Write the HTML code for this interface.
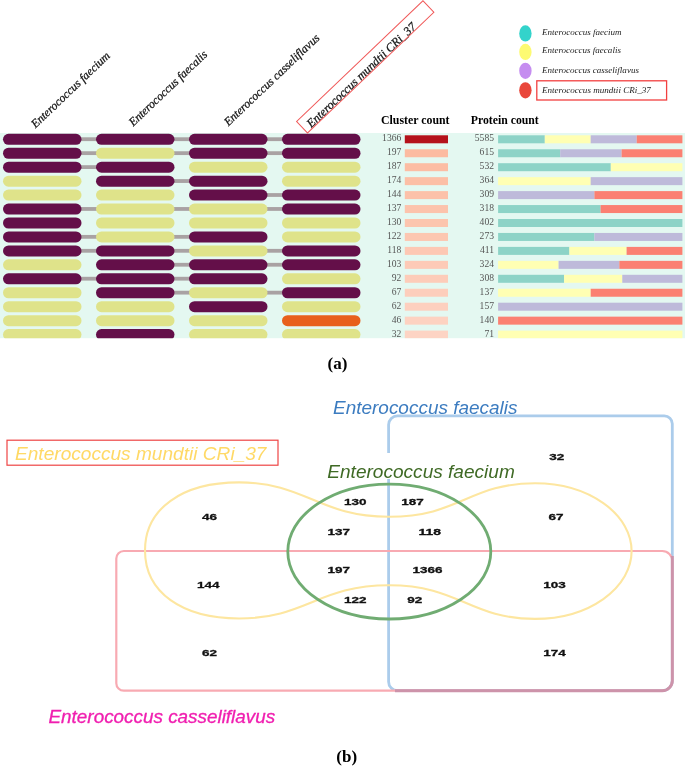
<!DOCTYPE html>
<html><head><meta charset="utf-8"><title>Figure</title>
<style>html,body{margin:0;padding:0;background:#fff}svg{display:block}.ser{font-family:"Liberation Serif","Times New Roman",serif}.san{font-family:"Liberation Sans",Arial,sans-serif}</style></head><body>
<svg width="685" height="766" viewBox="0 0 685 766">
<rect width="685" height="766" fill="#ffffff"/>
<defs><clipPath id="ca"><rect x="0" y="133" width="685" height="205.2"/></clipPath></defs>
<rect x="0" y="133" width="685" height="205.2" fill="#e4f8f1"/>
<g clip-path="url(#ca)">
<rect x="75.5" y="137.30" width="212.5" height="3.8" fill="#a9a2a3"/>
<rect x="3.0" y="133.80" width="78.5" height="11.0" rx="5.5" ry="5.5" fill="#640f49"/>
<rect x="96.0" y="133.80" width="78.5" height="11.0" rx="5.5" ry="5.5" fill="#640f49"/>
<rect x="189.0" y="133.80" width="78.5" height="11.0" rx="5.5" ry="5.5" fill="#640f49"/>
<rect x="282.0" y="133.80" width="78.5" height="11.0" rx="5.5" ry="5.5" fill="#640f49"/>
<rect x="404.8" y="135.30" width="43.2" height="8" fill="#b5121b"/>
<rect x="498.1" y="135.30" width="46.7" height="8" fill="#8dd3c7"/>
<rect x="544.8" y="135.30" width="45.9" height="8" fill="#ffffb3"/>
<rect x="590.7" y="135.30" width="46.0" height="8" fill="#bebada"/>
<rect x="636.7" y="135.30" width="45.7" height="8" fill="#fb8072"/>
<text class="ser" x="401.3" y="141.40" font-size="9.6" fill="#555" text-anchor="end">1366</text>
<text class="ser" x="494" y="141.40" font-size="9.6" fill="#555" text-anchor="end">5585</text>
<rect x="75.5" y="151.25" width="212.5" height="3.8" fill="#a9a2a3"/>
<rect x="3.0" y="147.75" width="78.5" height="11.0" rx="5.5" ry="5.5" fill="#640f49"/>
<rect x="96.0" y="147.75" width="78.5" height="11.0" rx="5.5" ry="5.5" fill="#dfe38a"/>
<rect x="189.0" y="147.75" width="78.5" height="11.0" rx="5.5" ry="5.5" fill="#640f49"/>
<rect x="282.0" y="147.75" width="78.5" height="11.0" rx="5.5" ry="5.5" fill="#640f49"/>
<rect x="404.8" y="149.25" width="43.2" height="8" fill="#fcbba1"/>
<rect x="498.1" y="149.25" width="62.1" height="8" fill="#8dd3c7"/>
<rect x="560.2" y="149.25" width="61.4" height="8" fill="#bebada"/>
<rect x="621.6" y="149.25" width="60.8" height="8" fill="#fb8072"/>
<text class="ser" x="401.3" y="155.35" font-size="9.6" fill="#555" text-anchor="end">197</text>
<text class="ser" x="494" y="155.35" font-size="9.6" fill="#555" text-anchor="end">615</text>
<rect x="75.5" y="165.20" width="26.5" height="3.8" fill="#a9a2a3"/>
<rect x="3.0" y="161.70" width="78.5" height="11.0" rx="5.5" ry="5.5" fill="#640f49"/>
<rect x="96.0" y="161.70" width="78.5" height="11.0" rx="5.5" ry="5.5" fill="#640f49"/>
<rect x="189.0" y="161.70" width="78.5" height="11.0" rx="5.5" ry="5.5" fill="#dfe38a"/>
<rect x="282.0" y="161.70" width="78.5" height="11.0" rx="5.5" ry="5.5" fill="#dfe38a"/>
<rect x="404.8" y="163.20" width="43.2" height="8" fill="#fcbda4"/>
<rect x="498.1" y="163.20" width="112.7" height="8" fill="#8dd3c7"/>
<rect x="610.8" y="163.20" width="71.6" height="8" fill="#ffffb3"/>
<text class="ser" x="401.3" y="169.30" font-size="9.6" fill="#555" text-anchor="end">187</text>
<text class="ser" x="494" y="169.30" font-size="9.6" fill="#555" text-anchor="end">532</text>
<rect x="168.5" y="179.15" width="26.5" height="3.8" fill="#a9a2a3"/>
<rect x="3.0" y="175.65" width="78.5" height="11.0" rx="5.5" ry="5.5" fill="#dfe38a"/>
<rect x="96.0" y="175.65" width="78.5" height="11.0" rx="5.5" ry="5.5" fill="#640f49"/>
<rect x="189.0" y="175.65" width="78.5" height="11.0" rx="5.5" ry="5.5" fill="#640f49"/>
<rect x="282.0" y="175.65" width="78.5" height="11.0" rx="5.5" ry="5.5" fill="#dfe38a"/>
<rect x="404.8" y="177.15" width="43.2" height="8" fill="#fcbfa6"/>
<rect x="498.1" y="177.15" width="92.6" height="8" fill="#ffffb3"/>
<rect x="590.7" y="177.15" width="91.7" height="8" fill="#bebada"/>
<text class="ser" x="401.3" y="183.25" font-size="9.6" fill="#555" text-anchor="end">174</text>
<text class="ser" x="494" y="183.25" font-size="9.6" fill="#555" text-anchor="end">364</text>
<rect x="261.5" y="193.10" width="26.5" height="3.8" fill="#a9a2a3"/>
<rect x="3.0" y="189.60" width="78.5" height="11.0" rx="5.5" ry="5.5" fill="#dfe38a"/>
<rect x="96.0" y="189.60" width="78.5" height="11.0" rx="5.5" ry="5.5" fill="#dfe38a"/>
<rect x="189.0" y="189.60" width="78.5" height="11.0" rx="5.5" ry="5.5" fill="#640f49"/>
<rect x="282.0" y="189.60" width="78.5" height="11.0" rx="5.5" ry="5.5" fill="#640f49"/>
<rect x="404.8" y="191.10" width="43.2" height="8" fill="#fcc1a9"/>
<rect x="498.1" y="191.10" width="96.3" height="8" fill="#bebada"/>
<rect x="594.4" y="191.10" width="88.0" height="8" fill="#fb8072"/>
<text class="ser" x="401.3" y="197.20" font-size="9.6" fill="#555" text-anchor="end">144</text>
<text class="ser" x="494" y="197.20" font-size="9.6" fill="#555" text-anchor="end">309</text>
<rect x="75.5" y="207.05" width="212.5" height="3.8" fill="#a9a2a3"/>
<rect x="3.0" y="203.55" width="78.5" height="11.0" rx="5.5" ry="5.5" fill="#640f49"/>
<rect x="96.0" y="203.55" width="78.5" height="11.0" rx="5.5" ry="5.5" fill="#dfe38a"/>
<rect x="189.0" y="203.55" width="78.5" height="11.0" rx="5.5" ry="5.5" fill="#dfe38a"/>
<rect x="282.0" y="203.55" width="78.5" height="11.0" rx="5.5" ry="5.5" fill="#640f49"/>
<rect x="404.8" y="205.05" width="43.2" height="8" fill="#fcc3ac"/>
<rect x="498.1" y="205.05" width="102.5" height="8" fill="#8dd3c7"/>
<rect x="600.6" y="205.05" width="81.8" height="8" fill="#fb8072"/>
<text class="ser" x="401.3" y="211.15" font-size="9.6" fill="#555" text-anchor="end">137</text>
<text class="ser" x="494" y="211.15" font-size="9.6" fill="#555" text-anchor="end">318</text>
<rect x="3.0" y="217.50" width="78.5" height="11.0" rx="5.5" ry="5.5" fill="#640f49"/>
<rect x="96.0" y="217.50" width="78.5" height="11.0" rx="5.5" ry="5.5" fill="#dfe38a"/>
<rect x="189.0" y="217.50" width="78.5" height="11.0" rx="5.5" ry="5.5" fill="#dfe38a"/>
<rect x="282.0" y="217.50" width="78.5" height="11.0" rx="5.5" ry="5.5" fill="#dfe38a"/>
<rect x="404.8" y="219.00" width="43.2" height="8" fill="#fcc5ae"/>
<rect x="498.1" y="219.00" width="184.3" height="8" fill="#8dd3c7"/>
<text class="ser" x="401.3" y="225.10" font-size="9.6" fill="#555" text-anchor="end">130</text>
<text class="ser" x="494" y="225.10" font-size="9.6" fill="#555" text-anchor="end">402</text>
<rect x="75.5" y="234.95" width="119.5" height="3.8" fill="#a9a2a3"/>
<rect x="3.0" y="231.45" width="78.5" height="11.0" rx="5.5" ry="5.5" fill="#640f49"/>
<rect x="96.0" y="231.45" width="78.5" height="11.0" rx="5.5" ry="5.5" fill="#dfe38a"/>
<rect x="189.0" y="231.45" width="78.5" height="11.0" rx="5.5" ry="5.5" fill="#640f49"/>
<rect x="282.0" y="231.45" width="78.5" height="11.0" rx="5.5" ry="5.5" fill="#dfe38a"/>
<rect x="404.8" y="232.95" width="43.2" height="8" fill="#fcc7b1"/>
<rect x="498.1" y="232.95" width="96.3" height="8" fill="#8dd3c7"/>
<rect x="594.4" y="232.95" width="88.0" height="8" fill="#bebada"/>
<text class="ser" x="401.3" y="239.05" font-size="9.6" fill="#555" text-anchor="end">122</text>
<text class="ser" x="494" y="239.05" font-size="9.6" fill="#555" text-anchor="end">273</text>
<rect x="75.5" y="248.90" width="212.5" height="3.8" fill="#a9a2a3"/>
<rect x="3.0" y="245.40" width="78.5" height="11.0" rx="5.5" ry="5.5" fill="#640f49"/>
<rect x="96.0" y="245.40" width="78.5" height="11.0" rx="5.5" ry="5.5" fill="#640f49"/>
<rect x="189.0" y="245.40" width="78.5" height="11.0" rx="5.5" ry="5.5" fill="#dfe38a"/>
<rect x="282.0" y="245.40" width="78.5" height="11.0" rx="5.5" ry="5.5" fill="#640f49"/>
<rect x="404.8" y="246.90" width="43.2" height="8" fill="#fdc8b4"/>
<rect x="498.1" y="246.90" width="71.3" height="8" fill="#8dd3c7"/>
<rect x="569.4" y="246.90" width="57.2" height="8" fill="#ffffb3"/>
<rect x="626.6" y="246.90" width="55.8" height="8" fill="#fb8072"/>
<text class="ser" x="401.3" y="253.00" font-size="9.6" fill="#555" text-anchor="end">118</text>
<text class="ser" x="494" y="253.00" font-size="9.6" fill="#555" text-anchor="end">411</text>
<rect x="168.5" y="262.85" width="119.5" height="3.8" fill="#a9a2a3"/>
<rect x="3.0" y="259.35" width="78.5" height="11.0" rx="5.5" ry="5.5" fill="#dfe38a"/>
<rect x="96.0" y="259.35" width="78.5" height="11.0" rx="5.5" ry="5.5" fill="#640f49"/>
<rect x="189.0" y="259.35" width="78.5" height="11.0" rx="5.5" ry="5.5" fill="#640f49"/>
<rect x="282.0" y="259.35" width="78.5" height="11.0" rx="5.5" ry="5.5" fill="#640f49"/>
<rect x="404.8" y="260.85" width="43.2" height="8" fill="#fdcab7"/>
<rect x="498.1" y="260.85" width="60.5" height="8" fill="#ffffb3"/>
<rect x="558.6" y="260.85" width="60.7" height="8" fill="#bebada"/>
<rect x="619.3" y="260.85" width="63.1" height="8" fill="#fb8072"/>
<text class="ser" x="401.3" y="266.95" font-size="9.6" fill="#555" text-anchor="end">103</text>
<text class="ser" x="494" y="266.95" font-size="9.6" fill="#555" text-anchor="end">324</text>
<rect x="75.5" y="276.80" width="119.5" height="3.8" fill="#a9a2a3"/>
<rect x="3.0" y="273.30" width="78.5" height="11.0" rx="5.5" ry="5.5" fill="#640f49"/>
<rect x="96.0" y="273.30" width="78.5" height="11.0" rx="5.5" ry="5.5" fill="#640f49"/>
<rect x="189.0" y="273.30" width="78.5" height="11.0" rx="5.5" ry="5.5" fill="#640f49"/>
<rect x="282.0" y="273.30" width="78.5" height="11.0" rx="5.5" ry="5.5" fill="#dfe38a"/>
<rect x="404.8" y="274.80" width="43.2" height="8" fill="#fdccb9"/>
<rect x="498.1" y="274.80" width="66.0" height="8" fill="#8dd3c7"/>
<rect x="564.1" y="274.80" width="58.2" height="8" fill="#ffffb3"/>
<rect x="622.3" y="274.80" width="60.1" height="8" fill="#bebada"/>
<text class="ser" x="401.3" y="280.90" font-size="9.6" fill="#555" text-anchor="end">92</text>
<text class="ser" x="494" y="280.90" font-size="9.6" fill="#555" text-anchor="end">308</text>
<rect x="168.5" y="290.75" width="119.5" height="3.8" fill="#a9a2a3"/>
<rect x="3.0" y="287.25" width="78.5" height="11.0" rx="5.5" ry="5.5" fill="#dfe38a"/>
<rect x="96.0" y="287.25" width="78.5" height="11.0" rx="5.5" ry="5.5" fill="#640f49"/>
<rect x="189.0" y="287.25" width="78.5" height="11.0" rx="5.5" ry="5.5" fill="#dfe38a"/>
<rect x="282.0" y="287.25" width="78.5" height="11.0" rx="5.5" ry="5.5" fill="#640f49"/>
<rect x="404.8" y="288.75" width="43.2" height="8" fill="#fdcebc"/>
<rect x="498.1" y="288.75" width="92.6" height="8" fill="#ffffb3"/>
<rect x="590.7" y="288.75" width="91.7" height="8" fill="#fb8072"/>
<text class="ser" x="401.3" y="294.85" font-size="9.6" fill="#555" text-anchor="end">67</text>
<text class="ser" x="494" y="294.85" font-size="9.6" fill="#555" text-anchor="end">137</text>
<rect x="3.0" y="301.20" width="78.5" height="11.0" rx="5.5" ry="5.5" fill="#dfe38a"/>
<rect x="96.0" y="301.20" width="78.5" height="11.0" rx="5.5" ry="5.5" fill="#dfe38a"/>
<rect x="189.0" y="301.20" width="78.5" height="11.0" rx="5.5" ry="5.5" fill="#640f49"/>
<rect x="282.0" y="301.20" width="78.5" height="11.0" rx="5.5" ry="5.5" fill="#dfe38a"/>
<rect x="404.8" y="302.70" width="43.2" height="8" fill="#fdd0bf"/>
<rect x="498.1" y="302.70" width="184.3" height="8" fill="#bebada"/>
<text class="ser" x="401.3" y="308.80" font-size="9.6" fill="#555" text-anchor="end">62</text>
<text class="ser" x="494" y="308.80" font-size="9.6" fill="#555" text-anchor="end">157</text>
<rect x="3.0" y="315.15" width="78.5" height="11.0" rx="5.5" ry="5.5" fill="#dfe38a"/>
<rect x="96.0" y="315.15" width="78.5" height="11.0" rx="5.5" ry="5.5" fill="#dfe38a"/>
<rect x="189.0" y="315.15" width="78.5" height="11.0" rx="5.5" ry="5.5" fill="#dfe38a"/>
<rect x="282.0" y="315.15" width="78.5" height="11.0" rx="5.5" ry="5.5" fill="#e8601c"/>
<rect x="404.8" y="316.65" width="43.2" height="8" fill="#fdd2c1"/>
<rect x="498.1" y="316.65" width="184.3" height="8" fill="#fb8072"/>
<text class="ser" x="401.3" y="322.75" font-size="9.6" fill="#555" text-anchor="end">46</text>
<text class="ser" x="494" y="322.75" font-size="9.6" fill="#555" text-anchor="end">140</text>
<rect x="3.0" y="329.10" width="78.5" height="11.0" rx="5.5" ry="5.5" fill="#dfe38a"/>
<rect x="96.0" y="329.10" width="78.5" height="11.0" rx="5.5" ry="5.5" fill="#640f49"/>
<rect x="189.0" y="329.10" width="78.5" height="11.0" rx="5.5" ry="5.5" fill="#dfe38a"/>
<rect x="282.0" y="329.10" width="78.5" height="11.0" rx="5.5" ry="5.5" fill="#dfe38a"/>
<rect x="404.8" y="330.60" width="43.2" height="8" fill="#fdd4c4"/>
<rect x="498.1" y="330.60" width="184.3" height="8" fill="#ffffb3"/>
<text class="ser" x="401.3" y="336.70" font-size="9.6" fill="#555" text-anchor="end">32</text>
<text class="ser" x="494" y="336.70" font-size="9.6" fill="#555" text-anchor="end">71</text>
</g>
<text class="ser" x="381" y="124" font-size="12" font-weight="bold" fill="#000" textLength="68.5" lengthAdjust="spacingAndGlyphs">Cluster count</text>
<text class="ser" x="470.8" y="124" font-size="12" font-weight="bold" fill="#000" textLength="68" lengthAdjust="spacingAndGlyphs">Protein count</text>
<text class="ser" font-style="italic" font-size="11.8" fill="#111" stroke="#111" stroke-width="0.25" transform="translate(35.5,128.5) rotate(-43.7)">Enterococcus faecium</text>
<text class="ser" font-style="italic" font-size="11.8" fill="#111" stroke="#111" stroke-width="0.25" transform="translate(133.2,126.8) rotate(-43.7)">Enterococcus faecalis</text>
<text class="ser" font-style="italic" font-size="11.8" fill="#111" stroke="#111" stroke-width="0.25" transform="translate(228.4,126.6) rotate(-43.7)">Enterococcus casseliflavus</text>
<text class="ser" font-style="italic" font-size="12.15" fill="#111" stroke="#111" stroke-width="0.25" transform="translate(311.3,128.3) rotate(-43.7)">Enterococcus mundtii CRi_37</text>
<g transform="translate(296.6,121.5) rotate(-43.7)"><rect x="0" y="0" width="174.8" height="15.8" fill="none" stroke="#f05a5a" stroke-width="1"/></g>
<ellipse cx="525.4" cy="33.4" rx="6.2" ry="8.1" fill="#33d3cb"/>
<text class="ser" font-style="italic" font-size="9" fill="#222" x="541.9" y="35.4" textLength="79.7" lengthAdjust="spacingAndGlyphs">Enterococcus faecium</text>
<ellipse cx="525.4" cy="51.9" rx="6.2" ry="8.1" fill="#fdfa72"/>
<text class="ser" font-style="italic" font-size="9" fill="#222" x="541.9" y="53.0" textLength="79" lengthAdjust="spacingAndGlyphs">Enterococcus faecalis</text>
<ellipse cx="525.4" cy="70.8" rx="6.2" ry="8.1" fill="#c58df0"/>
<text class="ser" font-style="italic" font-size="9" fill="#222" x="541.9" y="72.7" textLength="97" lengthAdjust="spacingAndGlyphs">Enterococcus casseliflavus</text>
<ellipse cx="525.4" cy="90.3" rx="6.2" ry="8.1" fill="#e9473b"/>
<text class="ser" font-style="italic" font-size="9" fill="#222" x="541.9" y="92.6" textLength="109" lengthAdjust="spacingAndGlyphs">Enterococcus mundtii CRi_37</text>
<rect x="536.8" y="80.8" width="129.8" height="19.2" fill="none" stroke="#f24040" stroke-width="1.3"/>
<text class="ser" x="327.5" y="369.1" font-size="17" font-weight="bold" fill="#000">(a)</text>
<text class="ser" x="336.3" y="762.1" font-size="17" font-weight="bold" fill="#000">(b)</text>
<g fill="none">
<path d="M397.6,415.8 H664.3 A8,8 0 0 1 672.3,423.8 V680.7 A10,10 0 0 1 662.3,690.7 H397.6 A9,9 0 0 1 388.6,681.7 V424.8 A9,9 0 0 1 397.6,415.8 Z" stroke="#abcceb" stroke-width="2.8"/>
<path d="M123.8,551 H662.3 A10,10 0 0 1 672.3,561 V680.7 A10,10 0 0 1 662.3,690.7 H123.8 A7.5,7.5 0 0 1 116.3,683.2 V558.5 A7.5,7.5 0 0 1 123.8,551 Z" stroke="#f8aab2" stroke-width="2.2"/>
<path d="M672.3,556 V680.7 A10,10 0 0 1 662.3,690.7 H395" stroke="#cd93aa" stroke-width="2.9"/>
<path d="M239.1,482.4 C306,482.4 318.6,516.8 389,516.8 C459.4,516.8 469.6,483.3 535,483.3 A96.6,67.8 0 0 1 535,618.9 C469.6,618.9 459.4,585.3 389,585.3 C318.6,585.3 306,618.5 239.1,618.5 C181.9,618.5 145,592.3 145,550.5 C145,508.7 181.9,482.4 239.1,482.4 Z" stroke="#fde6a0" stroke-width="2.1"/>
<ellipse cx="389.3" cy="551.6" rx="101.5" ry="67.4" stroke="#70ac72" stroke-width="2.8"/>
</g>
<rect x="325" y="453" width="192" height="26" fill="#fff"/>
<text class="san" font-style="italic" font-size="18" fill="#3c7cc0" x="333" y="413.5" textLength="184.5" lengthAdjust="spacingAndGlyphs">Enterococcus faecalis</text>
<text class="san" font-style="italic" font-size="18" fill="#3f6a25" x="327.3" y="478" textLength="187.5" lengthAdjust="spacingAndGlyphs">Enterococcus faecium</text>
<rect x="7" y="440.2" width="271" height="25" fill="#fff" stroke="#ee4444" stroke-width="1.2"/>
<text class="san" font-style="italic" font-size="18" fill="#ffd966" x="15" y="459.5" textLength="251.5" lengthAdjust="spacingAndGlyphs">Enterococcus mundtii CRi_37</text>
<text class="san" font-style="italic" font-size="18" fill="#f01fb0" stroke="#f01fb0" stroke-width="0.3" x="48.5" y="722.6" textLength="226.7" lengthAdjust="spacingAndGlyphs">Enterococcus casseliflavus</text>
<text class="san" font-weight="bold" font-size="9.6" fill="#111" stroke="#111" stroke-width="0.3" x="549.3" y="460.0" textLength="15.0" lengthAdjust="spacingAndGlyphs">32</text>
<text class="san" font-weight="bold" font-size="9.6" fill="#111" stroke="#111" stroke-width="0.3" x="548.5" y="520.2" textLength="15.0" lengthAdjust="spacingAndGlyphs">67</text>
<text class="san" font-weight="bold" font-size="9.6" fill="#111" stroke="#111" stroke-width="0.3" x="543.2" y="587.8" textLength="22.5" lengthAdjust="spacingAndGlyphs">103</text>
<text class="san" font-weight="bold" font-size="9.6" fill="#111" stroke="#111" stroke-width="0.3" x="543.2" y="656.4" textLength="22.5" lengthAdjust="spacingAndGlyphs">174</text>
<text class="san" font-weight="bold" font-size="9.6" fill="#111" stroke="#111" stroke-width="0.3" x="401.2" y="505.0" textLength="22.5" lengthAdjust="spacingAndGlyphs">187</text>
<text class="san" font-weight="bold" font-size="9.6" fill="#111" stroke="#111" stroke-width="0.3" x="418.6" y="534.9" textLength="22.5" lengthAdjust="spacingAndGlyphs">118</text>
<text class="san" font-weight="bold" font-size="9.6" fill="#111" stroke="#111" stroke-width="0.3" x="412.6" y="572.6" textLength="30.0" lengthAdjust="spacingAndGlyphs">1366</text>
<text class="san" font-weight="bold" font-size="9.6" fill="#111" stroke="#111" stroke-width="0.3" x="407.2" y="603.0" textLength="15.0" lengthAdjust="spacingAndGlyphs">92</text>
<text class="san" font-weight="bold" font-size="9.6" fill="#111" stroke="#111" stroke-width="0.3" x="202.0" y="520.4" textLength="15.0" lengthAdjust="spacingAndGlyphs">46</text>
<text class="san" font-weight="bold" font-size="9.6" fill="#111" stroke="#111" stroke-width="0.3" x="196.9" y="588.3" textLength="22.5" lengthAdjust="spacingAndGlyphs">144</text>
<text class="san" font-weight="bold" font-size="9.6" fill="#111" stroke="#111" stroke-width="0.3" x="202.0" y="656.2" textLength="15.0" lengthAdjust="spacingAndGlyphs">62</text>
<text class="san" font-weight="bold" font-size="9.6" fill="#111" stroke="#111" stroke-width="0.3" x="344.1" y="504.8" textLength="22.5" lengthAdjust="spacingAndGlyphs">130</text>
<text class="san" font-weight="bold" font-size="9.6" fill="#111" stroke="#111" stroke-width="0.3" x="327.4" y="534.9" textLength="22.5" lengthAdjust="spacingAndGlyphs">137</text>
<text class="san" font-weight="bold" font-size="9.6" fill="#111" stroke="#111" stroke-width="0.3" x="327.4" y="572.6" textLength="22.5" lengthAdjust="spacingAndGlyphs">197</text>
<text class="san" font-weight="bold" font-size="9.6" fill="#111" stroke="#111" stroke-width="0.3" x="344.1" y="602.9" textLength="22.5" lengthAdjust="spacingAndGlyphs">122</text>
</svg></body></html>
